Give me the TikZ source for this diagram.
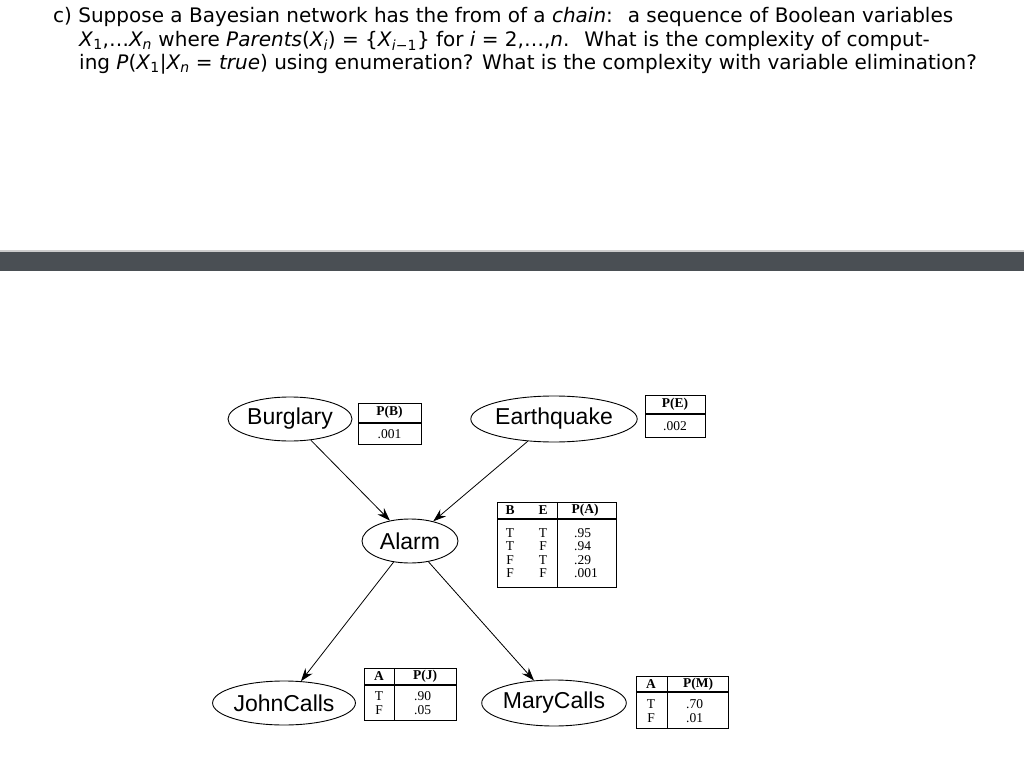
\documentclass[tikz,border=0pt]{standalone}
\usepackage{fontspec}
\setmainfont{DejaVu Sans}
\newfontfamily\arialf{Liberation Sans}
\newfontfamily\timesf{Liberation Serif}
\usetikzlibrary{shapes.geometric,arrows.meta}
\newcommand{\sbs}[1]{\textsubscript{#1}}
\definecolor{barc}{HTML}{4A4F54}
\begin{document}
\begin{tikzpicture}[x=1pt,y=-1pt,
  var/.style={ellipse,draw,line width=0.9pt,minimum width=#1,minimum height=44pt,inner sep=0pt,font=\arialf\fontsize{23}{26}\selectfont},
  edge/.style={-{Stealth[length=13pt,width=9pt]},line width=0.8pt},
  tb/.style={draw,line width=0.9pt},
  tt/.style={font=\timesf\fontsize{13.5}{13.5}\selectfont,inner sep=0pt},
  th/.style={font=\timesf\bfseries\fontsize{13.5}{13.5}\selectfont,inner sep=0pt},
  qt/.style={anchor=west,inner sep=0pt,font=\fontsize{20}{24}\selectfont}]
\useasboundingbox (0,0) rectangle (1024,783);
\fill[white] (0,0) rectangle (1024,783);
% question text
\node[qt] (q1) at (53,17) {c) Suppose a Bayesian network has the from of a \textit{chain}: \ a sequence of Boolean variables};
\node[qt] (q2) at (79,41) {\textit{X}\sbs{1},\ldots\textit{X\sbs{n}} where \textit{Parents}(\textit{X\sbs{i}}) = \{\textit{X}\sbs{\textit{i}−1}\} for \textit{i} = 2,\ldots,\textit{n}. \ What is the complexity of comput-};
\node[qt] (q3) at (79,64) {ing \textit{P}(\textit{X}\sbs{1}|\textit{X\sbs{n}} = \textit{true}) using enumeration? What is the complexity with variable elimination?};
% bar
\fill[barc] (0,250) rectangle (1024,271);
\fill[gray!40] (0,250) rectangle (1024,252.5);
% nodes
\node[var=124pt] (B) at (290,419) {Burglary};
\node[var=160pt,minimum height=46pt] (E) at (554,419) {Earthquake};
\node[var=96pt] (A) at (410,541) {Alarm};
\node[var=136pt] (J) at (284,703) {JohnCalls};
\node[var=138pt,minimum height=46pt] (M) at (554,703) {MaryCalls};
\draw[edge] (B) -- (A);
\draw[edge] (E) -- (A);
\draw[edge] (A) -- (J);
\draw[edge] (A) -- (M);
% P(B)
\node[tb,minimum width=63pt,minimum height=41pt,inner sep=0pt] (tB) at (389.5,423.5) {};
\draw[line width=1.4pt] (358,423) -- (421,423);
\node[th] (tBh) at (389.5,412) {P(B)};
\node[tt] (tBv) at (389.5,434) {.001};
% P(E)
\node[tb,minimum width=60pt,minimum height=42pt,inner sep=0pt] (tE) at (675,416) {};
\draw[line width=1.4pt] (645,414) -- (705,414);
\node[th] (tEh) at (675,404) {P(E)};
\node[tt] (tEv) at (675,426) {.002};
% P(A)
\node[tb,minimum width=119pt,minimum height=85pt,inner sep=0pt] (tA) at (556.5,544.5) {};
\draw[line width=1.4pt] (497,519) -- (616,519);
\draw[line width=0.9pt] (557,502) -- (557,587);
\node[th] at (510,510) {B};
\node[th] at (543,510) {E};
\node[th] at (585,510) {P(A)};
\node[tt,align=center] at (510,553) {T\\T\\F\\F};
\node[tt,align=center] at (543,553) {T\\F\\T\\F};
\node[tt,align=left,anchor=west] at (574,553) {.95\\.94\\.29\\.001};
% P(J)
\node[tb,minimum width=92pt,minimum height=52pt,inner sep=0pt] (tJ) at (410,694) {};
\draw[line width=1.4pt] (364,685) -- (456,685);
\draw[line width=0.9pt] (394,668) -- (394,720);
\node[th] at (379,676) {A};
\node[th] at (425,676) {P(J)};
\node[tt,align=center] at (379,703) {T\\F};
\node[tt,align=left,anchor=west] at (414,703) {.90\\.05};
% P(M)
\node[tb,minimum width=92pt,minimum height=52pt,inner sep=0pt] (tM) at (682,702) {};
\draw[line width=1.4pt] (636,692) -- (728,692);
\draw[line width=0.9pt] (667,676) -- (667,728);
\node[th] at (651,684) {A};
\node[th] at (698,684) {P(M)};
\node[tt,align=center] at (651,711) {T\\F};
\node[tt,align=left,anchor=west] at (686,711) {.70\\.01};
\end{tikzpicture}
\end{document}
